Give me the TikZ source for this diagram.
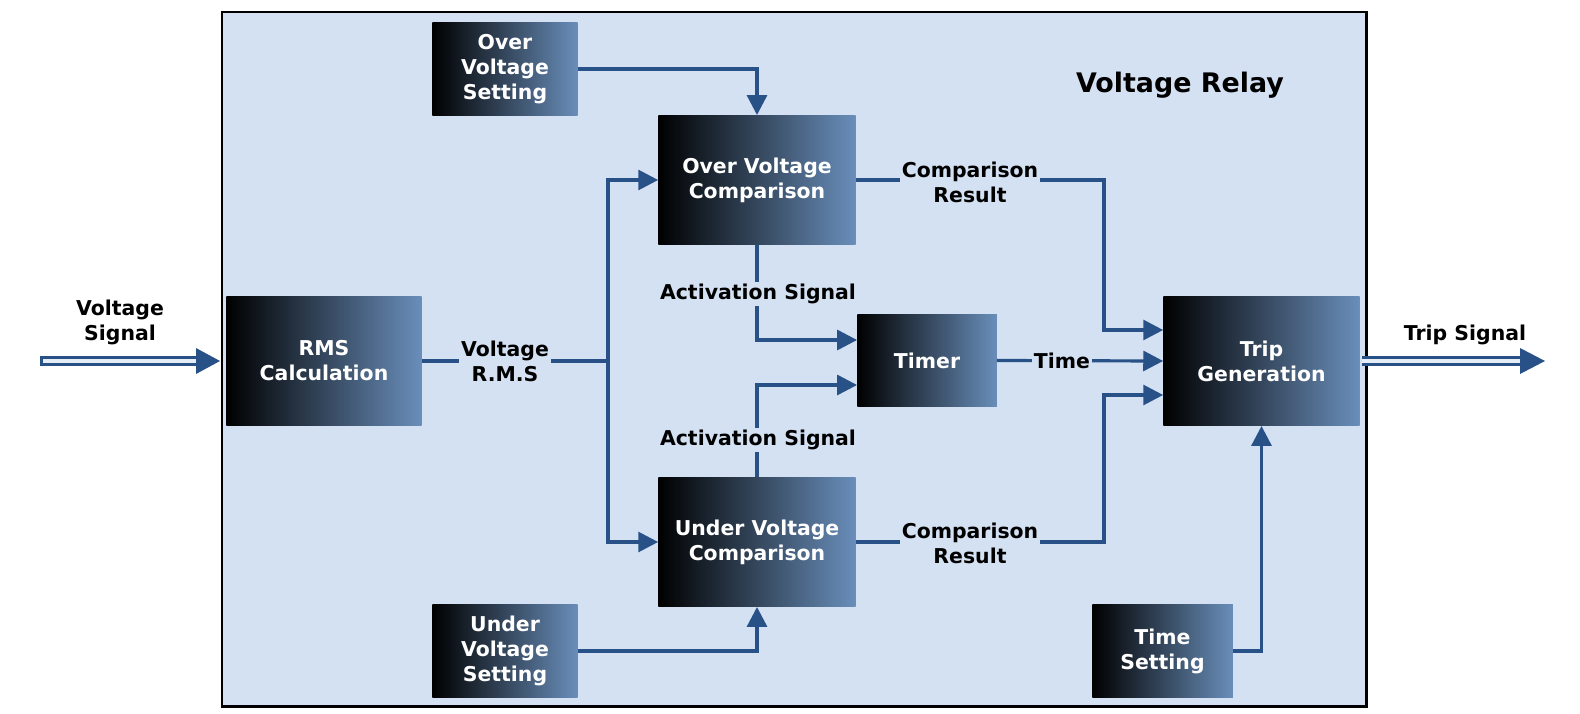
\documentclass[tikz,border=0pt]{standalone}
\usepackage{fontspec}
\setmainfont{DejaVu Sans}
\usetikzlibrary{arrows.meta}
\definecolor{bg}{RGB}{212,225,242}
\definecolor{ln}{RGB}{40,82,135}
\definecolor{bx}{RGB}{105,142,186}
\tikzset{
 blk/.style={draw=none,left color=black,right color=bx,text=white,font=\bfseries\fontsize{20.5}{25}\selectfont,align=center,inner sep=0pt},
 lab/.style={fill=bg,font=\bfseries\fontsize{20.5}{25}\selectfont,align=center,inner sep=2pt,text=black},
 con/.style={draw=ln,line width=3.2pt,-{Triangle[length=20pt,width=20pt]}},
 lin/.style={draw=ln,line width=3.2pt},
}
\newcommand{\bxat}[6]{\node[blk,minimum width=#3-#2,minimum height=#5-#4] (#1) at ({(#2+#3)/2},{-(#4+#5)/2}) {#6};}
\begin{document}
\begin{tikzpicture}[x=1bp,y=1bp]
\useasboundingbox (0,0) rectangle (1580,-714);
\draw[line width=3pt,fill=bg] (222,-12) rectangle (1366,-706);
\node[font=\bfseries\fontsize{27}{31}\selectfont] (title) at (1180,-85) {Voltage Relay};
\bxat{ovs}{432}{578}{22}{116}{Over\\Voltage\\Setting}
\bxat{ovc}{658}{856}{115}{245}{Over Voltage\\Comparison}
\bxat{rms}{226}{422}{296}{426}{RMS\\Calculation}
\bxat{tmr}{857}{997}{314}{407}{Timer}
\bxat{uvc}{658}{856}{477}{607}{Under Voltage\\Comparison}
\bxat{uvs}{432}{578}{604}{698}{Under\\Voltage\\Setting}
\bxat{trp}{1163}{1360}{296}{426}{Trip\\Generation}
\bxat{tms}{1092}{1233}{604}{698}{Time\\Setting}
% in/out arrows
\coordinate (inA) at (40,-361);
\coordinate (outB) at (1545,-361);
\draw[ln,line width=10pt] (inA) -- (200,-361);
\draw[bg!60!white,line width=3.5pt] (43,-361) -- (202,-361);
\fill[ln] (196,-348) -- (220,-361) -- (196,-374) -- cycle;
\draw[ln,line width=10pt] (1362,-361) -- (1522,-361);
\draw[bg!60!white,line width=3.5pt] (1362,-361) -- (1524,-361);
\fill[ln] (1520,-348) -- (outB) -- (1520,-374) -- cycle;
\node[lab,fill=none] (vs) at (120,-322) {Voltage\\Signal};
\node[lab,fill=none] (ts) at (1465,-335) {Trip Signal};
% connectors
\coordinate (j) at (608,-361);
\draw[lin] (rms.east) -- (j);
\node[lab] (vrms) at (505,-361) {Voltage\\R.M.S};
\draw[con] (j) |- (ovc.west);
\draw[con] (j) |- (uvc.west);
\draw[con] (ovs.east) -| (ovc.north);
\draw[con] (uvs.east) -| (uvc.south);
\draw[con] (ovc.south) |- (tmr.west |- 0,-340);
\node[lab] (as1) at (758,-294) {Activation Signal};
\draw[con] (uvc.north) |- (tmr.west |- 0,-385);
\node[lab] (as2) at (758,-440) {Activation Signal};
\draw[con] (ovc.east) -| (1104,-250) |- (trp.west |- 0,-330);
\node[lab] (cr1) at (970,-182) {Comparison\\Result};
\draw[con] (uvc.east) -| (1104,-450) |- (trp.west |- 0,-395);
\node[lab] (cr2) at (970,-543) {Comparison\\Result};
\draw[con] (tmr.east) -- (trp.west);
\node[lab] (tm) at (1062,-361) {Time};
\draw[con] (tms.east) -| (trp.south);
\end{tikzpicture}
\end{document}
